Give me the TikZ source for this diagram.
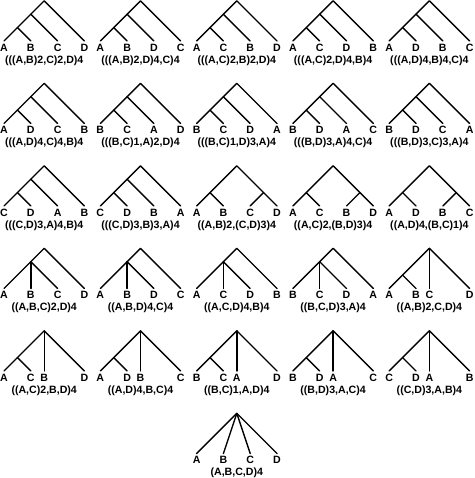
\documentclass[tikz,border=0pt]{standalone}
\usepackage{fontspec}
\setmainfont{Liberation Sans}
\usetikzlibrary{calc}

\tikzset{
  branch/.style={black, line width=1.4pt, line cap=round, line join=round},
  leaf/.style={font=\bfseries\fontsize{10.6}{12}\selectfont, inner sep=0pt},
  treename/.style={font=\bfseries\fontsize{10.6}{12}\selectfont, inner sep=0pt}
}

% tips, leaf labels, root and name of one tree (#1 = x of the third leaf)
\newcommand{\tips}[6]{%
  \coordinate (t1) at (0,0);
  \coordinate (t2) at (26.8,0);
  \coordinate (t3) at (#1,0);
  \coordinate (t4) at (80.4,0);
  \coordinate (root) at (40.2,-40.2);
  \node[leaf] (l1) at (0,6.5) {#2};
  \node[leaf] (l2) at (26.8,6.5) {#3};
  \node[leaf] (l3) at (#1,6.5) {#4};
  \node[leaf] (l4) at (80.4,6.5) {#5};
  \node[treename] (name) at (40.2,19.5) {#6};
}
% (((1,2),3),4)
\newcommand{\cattree}[5]{\tips{53.6}{#1}{#2}{#3}{#4}{#5}
  \coordinate (n1) at (13.4,-13.4);
  \coordinate (n2) at (26.8,-26.8);
  \draw[branch] (t1) -- (n1) -- (n2) -- (root) -- (t4);
  \draw[branch] (t2) -- (n1);
  \draw[branch] (t3) -- (n2);
}
% ((1,2),(3,4))
\newcommand{\baltree}[5]{\tips{53.6}{#1}{#2}{#3}{#4}{#5}
  \coordinate (n1) at (13.4,-13.4);
  \coordinate (n2) at (67,-13.4);
  \draw[branch] (t1) -- (n1) -- (root) -- (n2) -- (t4);
  \draw[branch] (t2) -- (n1);
  \draw[branch] (t3) -- (n2);
}
% ((1,2,3),4)
\newcommand{\tritree}[5]{\tips{53.6}{#1}{#2}{#3}{#4}{#5}
  \coordinate (n1) at (26.8,-26.8);
  \draw[branch] (t1) -- (n1) -- (root) -- (t4);
  \draw[branch] (t2) -- (n1);
  \draw[branch] (t3) -- (n1);
}
% ((1,2),3,4)
\newcommand{\pairtree}[5]{\tips{40.2}{#1}{#2}{#3}{#4}{#5}
  \coordinate (n1) at (13.4,-13.4);
  \draw[branch] (t1) -- (n1) -- (root) -- (t4);
  \draw[branch] (t2) -- (n1);
  \draw[branch] (t3) -- (root);
}
% (1,2,3,4)
\newcommand{\startree}[5]{\tips{53.6}{#1}{#2}{#3}{#4}{#5}
  \draw[branch] (t1) -- (root) -- (t4);
  \draw[branch] (t2) -- (root) -- (t3);
}

\begin{document}
\begin{tikzpicture}[x=1pt, y=-1pt]
  \useasboundingbox (0,0) rectangle (474,478);

  % row 1
  \begin{scope}[shift={(4,41)}, name prefix=r1a-]\cattree{A}{B}{C}{D}{(((A,B)2,C)2,D)4}\end{scope}
  \begin{scope}[shift={(100.3,41)}, name prefix=r1b-]\cattree{A}{B}{D}{C}{(((A,B)2,D)4,C)4}\end{scope}
  \begin{scope}[shift={(196.6,41)}, name prefix=r1c-]\cattree{A}{C}{B}{D}{(((A,C)2,B)2,D)4}\end{scope}
  \begin{scope}[shift={(292.9,41)}, name prefix=r1d-]\cattree{A}{C}{D}{B}{(((A,C)2,D)4,B)4}\end{scope}
  \begin{scope}[shift={(389.2,41)}, name prefix=r1e-]\cattree{A}{D}{B}{C}{(((A,D)4,B)4,C)4}\end{scope}

  % row 2
  \begin{scope}[shift={(4,123.5)}, name prefix=r2a-]\cattree{A}{D}{C}{B}{(((A,D)4,C)4,B)4}\end{scope}
  \begin{scope}[shift={(100.3,123.5)}, name prefix=r2b-]\cattree{B}{C}{A}{D}{(((B,C)1,A)2,D)4}\end{scope}
  \begin{scope}[shift={(196.6,123.5)}, name prefix=r2c-]\cattree{B}{C}{D}{A}{(((B,C)1,D)3,A)4}\end{scope}
  \begin{scope}[shift={(292.9,123.5)}, name prefix=r2d-]\cattree{B}{D}{A}{C}{(((B,D)3,A)4,C)4}\end{scope}
  \begin{scope}[shift={(389.2,123.5)}, name prefix=r2e-]\cattree{B}{D}{C}{A}{(((B,D)3,C)3,A)4}\end{scope}

  % row 3
  \begin{scope}[shift={(4,206)}, name prefix=r3a-]\cattree{C}{D}{A}{B}{(((C,D)3,A)4,B)4}\end{scope}
  \begin{scope}[shift={(100.3,206)}, name prefix=r3b-]\cattree{C}{D}{B}{A}{(((C,D)3,B)3,A)4}\end{scope}
  \begin{scope}[shift={(196.6,206)}, name prefix=r3c-]\baltree{A}{B}{C}{D}{((A,B)2,(C,D)3)4}\end{scope}
  \begin{scope}[shift={(292.9,206)}, name prefix=r3d-]\baltree{A}{C}{B}{D}{((A,C)2,(B,D)3)4}\end{scope}
  \begin{scope}[shift={(389.2,206)}, name prefix=r3e-]\baltree{A}{D}{B}{C}{((A,D)4,(B,C)1)4}\end{scope}

  % row 4
  \begin{scope}[shift={(4,288.5)}, name prefix=r4a-]\tritree{A}{B}{C}{D}{((A,B,C)2,D)4}\end{scope}
  \begin{scope}[shift={(100.3,288.5)}, name prefix=r4b-]\tritree{A}{B}{D}{C}{((A,B,D)4,C)4}\end{scope}
  \begin{scope}[shift={(196.6,288.5)}, name prefix=r4c-]\tritree{A}{C}{D}{B}{((A,C,D)4,B)4}\end{scope}
  \begin{scope}[shift={(292.9,288.5)}, name prefix=r4d-]\tritree{B}{C}{D}{A}{((B,C,D)3,A)4}\end{scope}
  \begin{scope}[shift={(389.2,288.5)}, name prefix=r4e-]\pairtree{A}{B}{C}{D}{((A,B)2,C,D)4}\end{scope}

  % row 5
  \begin{scope}[shift={(4,371)}, name prefix=r5a-]\pairtree{A}{C}{B}{D}{((A,C)2,B,D)4}\end{scope}
  \begin{scope}[shift={(100.3,371)}, name prefix=r5b-]\pairtree{A}{D}{B}{C}{((A,D)4,B,C)4}\end{scope}
  \begin{scope}[shift={(196.6,371)}, name prefix=r5c-]\pairtree{B}{C}{A}{D}{((B,C)1,A,D)4}\end{scope}
  \begin{scope}[shift={(292.9,371)}, name prefix=r5d-]\pairtree{B}{D}{A}{C}{((B,D)3,A,C)4}\end{scope}
  \begin{scope}[shift={(389.2,371)}, name prefix=r5e-]\pairtree{C}{D}{A}{B}{((C,D)3,A,B)4}\end{scope}

  % row 6
  \begin{scope}[shift={(196.6,453.5)}, name prefix=r6-]\startree{A}{B}{C}{D}{(A,B,C,D)4}\end{scope}
\end{tikzpicture}
\end{document}
